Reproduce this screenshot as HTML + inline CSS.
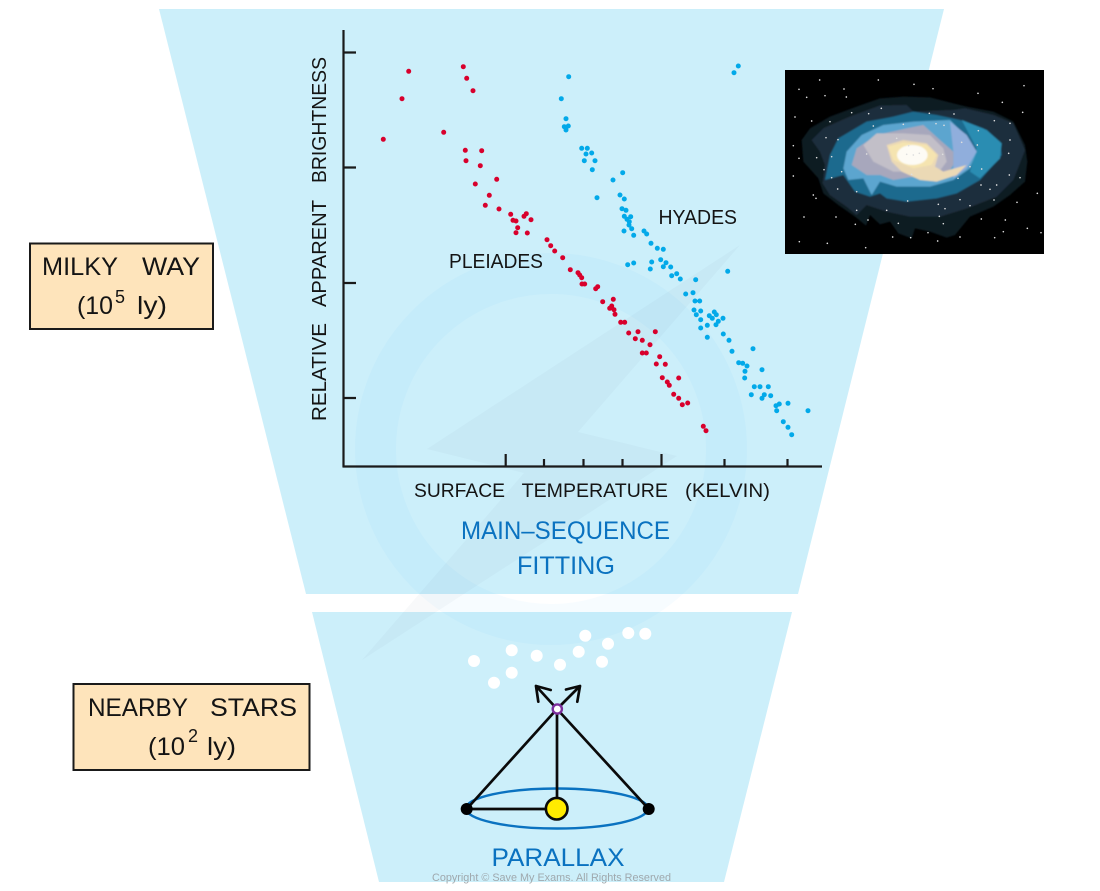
<!DOCTYPE html>
<html><head><meta charset="utf-8"><style>
html,body{margin:0;padding:0;background:#fff}
svg{display:block}
text{font-family:"Liberation Sans",sans-serif;fill:#141414;white-space:pre}
.b{fill:#0a72c0}
</style></head><body>
<svg width="1100" height="891" viewBox="0 0 1100 891" xmlns="http://www.w3.org/2000/svg">
<defs><filter id="s" x="-5%" y="-5%" width="110%" height="110%"><feGaussianBlur stdDeviation="2.4"/></filter></defs>
<rect width="1100" height="891" fill="#fff"/>
<polygon points="159,9 944,9 798,594 306,594" fill="#cceffa"/>
<polygon points="312,612 792,612 724,882 379,882" fill="#cceffa"/>
<!-- watermark -->
<circle cx="551" cy="449" r="175.5" fill="none" stroke="#0aa5f0" stroke-opacity=".03" stroke-width="41"/>
<polygon points="740,245 427,449 524,473 362,660 677,456 578,432" fill="#5a7f90" fill-opacity=".045"/>
<!-- axes -->
<g stroke="#1a1a1a" stroke-width="2.2" fill="none">
<path d="M343.5 30V467M342.5 466.5H822"/>
<path d="M343 52.5H356M343 167.5H356M343 283H356M343 398H356"/>
<path d="M505.7 454V466M544 459V466M583.5 459V466M622.5 459V466M661.5 454V466M724.5 459V466M787.5 459V466"/>
</g>
<!-- red -->
<path fill="none" stroke="#d8002c" stroke-width="5" stroke-linecap="round" d="M408.7 71.3h0M463.3 66.7h0M466.7 78.3h0M473 90.7h0M402 98.7h0M443.7 132.3h0M383.3 139.3h0M465.3 150.3h0M481.7 150.7h0M466 160.7h0M480.3 165.7h0M496.7 179.3h0M475.3 184h0M489.3 195.3h0M485.3 205.3h0M499 209h0M510.7 214.3h0M526.3 213.7h0M524 216.3h0M513 220.3h0M516 221h0M531 219.7h0M517.7 227.7h0M516 232.7h0M527.3 233h0M547 239.7h0M550.7 245.7h0M554.7 251h0M562.7 257.7h0M570.3 269.7h0M578 272.7h0M579.7 275h0M581.7 277.7h0M582 284h0M584.7 284h0M595.7 288.7h0M597.7 286.7h0M602.7 301.7h0M613.3 299.3h0M611.7 306h0M609.7 308.3h0M614 309.7h0M615 314.3h0M620.7 322.3h0M624.7 322.3h0M628.7 333h0M638 331.7h0M655.3 331.7h0M635.3 338.7h0M642.3 340.3h0M650 344.7h0M642.3 353h0M646.3 353h0M659.7 356.7h0M656.3 364h0M665.3 364.3h0M662.3 377.7h0M678.7 378h0M667.3 382h0M669.3 385.3h0M673.7 394.3h0M678.7 398.3h0M687.7 403h0M682.3 404.7h0M703.3 426.3h0M706 430.7h0"/>
<!-- blue -->
<path fill="none" stroke="#02a9e9" stroke-width="5" stroke-linecap="round" d="M568.7 76.7h0M561.3 98.7h0M566 118.7h0M564.3 126.7h0M568.3 126h0M566 130h0M738.3 66h0M734 72.7h0M581.7 148.3h0M587.3 148.3h0M586 154h0M591.7 153h0M584.3 160.7h0M595 160.7h0M592.3 169.7h0M622.7 172.7h0M613 180h0M597 197.7h0M620 195h0M624.3 199h0M622 208.7h0M626 210.3h0M624.3 216.3h0M630.7 216.7h0M627 219.3h0M629.3 221.7h0M629 225h0M631.7 228.7h0M624 231h0M633.7 235.3h0M644 231h0M646.7 234h0M651 243.3h0M657.3 248.3h0M663.3 249.3h0M660.7 259.7h0M651.7 262h0M666 262.7h0M670.7 267h0M663.3 266.7h0M650.3 269h0M633.7 263h0M627.7 264.7h0M676.7 273.7h0M671.7 275.7h0M680.3 279h0M695.7 279.7h0M727.7 271.3h0M685.7 294h0M693 292.7h0M695 301h0M699.7 301h0M694 310h0M700.7 311h0M696.3 314.7h0M709.3 315.7h0M714.3 312h0M716.3 314.7h0M712.3 318.3h0M723 318.3h0M700.7 319.7h0M718.3 321.3h0M716 324.7h0M707.3 325.3h0M700.7 328h0M707.3 337.3h0M723.3 334h0M729 340.3h0M732 351.3h0M753 348.7h0M738.7 362.7h0M742.7 363.3h0M747 366h0M745 371.3h0M762 369.7h0M744.7 378h0M754.3 386.7h0M760 386.7h0M768.3 386.7h0M751.3 394.7h0M764.3 394.7h0M770.7 395.7h0M762 398.3h0M788 403.3h0M779.3 404h0M776 405.7h0M776.7 410.7h0M808 410.7h0M783.3 421.7h0M788 427.3h0M791.7 434.7h0"/>
<!-- chart text -->
<text x="414" y="497" font-size="19" textLength="91" lengthAdjust="spacingAndGlyphs">SURFACE</text>
<text x="521.7" y="497" font-size="19" textLength="146.3" lengthAdjust="spacingAndGlyphs">TEMPERATURE</text>
<text x="685" y="497" font-size="19" textLength="85" lengthAdjust="spacingAndGlyphs">(KELVIN)</text>
<text transform="translate(326,421) rotate(-90)" font-size="20.5" textLength="98" lengthAdjust="spacingAndGlyphs">RELATIVE</text>
<text transform="translate(326,307) rotate(-90)" font-size="20.5" textLength="107" lengthAdjust="spacingAndGlyphs">APPARENT</text>
<text transform="translate(326,183) rotate(-90)" font-size="20.5" textLength="126" lengthAdjust="spacingAndGlyphs">BRIGHTNESS</text>
<text x="449" y="268" font-size="20" textLength="94" lengthAdjust="spacingAndGlyphs">PLEIADES</text>
<text x="658.5" y="224" font-size="20" textLength="78.5" lengthAdjust="spacingAndGlyphs">HYADES</text>
<text class="b" x="461" y="539" font-size="25" textLength="209" lengthAdjust="spacingAndGlyphs">MAIN–SEQUENCE</text>
<text class="b" x="517" y="574" font-size="25" textLength="98" lengthAdjust="spacingAndGlyphs">FITTING</text>
<!-- galaxy -->
<rect x="785" y="70" width="259" height="184" fill="#000"/>
<svg x="785" y="70" width="259" height="184" viewBox="15 15 777 552" overflow="hidden">
<g filter="url(#s)">
<polygon fill="#0e1a20" points="65,225 90,190 150,155 230,125 300,100 370,95 450,97 520,115 560,125 640,140 700,170 735,240 742,290 735,350 690,390 640,425 570,455 525,510 500,518 450,500 405,490 395,520 355,505 330,470 300,478 270,450 258,482 225,455 175,420 130,385 115,340 70,290"/>
<polygon fill="#1f2d3d" points="95,225 130,190 210,155 300,122 380,120 400,140 520,135 555,130 640,150 700,175 735,255 700,345 650,395 560,430 480,455 390,455 320,440 260,420 230,450 200,425 150,390 128,355 135,300 120,260"/>
<polygon fill="#1e6a8e" points="135,345 150,270 175,220 260,170 340,155 400,140 470,150 540,165 610,190 660,230 665,270 640,300 600,345 530,385 470,400 380,410 320,400 300,385 270,395 225,380 190,330"/>
<polygon fill="#2a8db2" points="545,165 620,195 665,235 660,280 600,340 570,320 590,250"/>
<polygon fill="#5ba5cf" points="190,310 200,260 245,210 310,180 400,170 510,165 560,215 590,260 570,310 520,345 450,365 350,365 300,350 275,390 250,340 205,345"/>
<polygon fill="#90aedc" points="510,170 560,210 590,260 560,310 520,340 520,260"/>
<polygon fill="#a7a7bc" points="215,300 230,250 290,210 380,190 430,180 480,225 520,260 520,300 500,330 450,345 400,335 340,345 300,330 260,330"/>
<polygon fill="#c2bfc8" points="250,240 290,205 370,205 450,210 490,250 500,290 470,330 400,320 340,320 280,290"/>
<polygon fill="#ebd9b5" points="320,240 370,225 440,235 475,270 465,305 490,320 560,300 530,330 470,350 420,345 365,320 335,290"/>
<polygon fill="#f5e4b0" points="325,245 370,232 440,240 470,270 455,300 400,310 340,285"/>
<ellipse cx="397" cy="270" rx="46" ry="30" fill="#fdfbf5"/>
</g>
<path fill="none" stroke="#dedede" stroke-width="5" stroke-linecap="round" d="M119 45h0M295 45h0M57 73h0M192 72h0M402 58h0M459 71h0M594 85h0M732 62h0M80 97h0M135 92h0M199 96h0M667 112h0M45 156h0M95 168h0M215 143h0M266 146h0M304 130h0M448 145h0M522 147h0M728 142h0M690 175h0M150 170h0M138 218h0M174 224h0M280 183h0M370 178h0M468 176h0M492 181h0M595 197h0M643 167h0M40 242h0M57 280h0M110 278h0M155 275h0M260 267h0M350 220h0M386 242h0M380 268h0M400 270h0M418 265h0M488 268h0M545 232h0M592 240h0M690 225h0M686 265h0M40 333h0M132 314h0M155 338h0M185 320h0M230 380h0M173 372h0M100 390h0M108 400h0M395 328h0M534 340h0M570 305h0M605 312h0M688 330h0M720 338h0M603 360h0M650 360h0M630 373h0M383 408h0M475 418h0M540 404h0M642 405h0M570 422h0M711 412h0M772 385h0M230 436h0M320 436h0M495 431h0M72 456h0M168 456h0M264 465h0M226 478h0M478 454h0M604 462h0M676 465h0M355 475h0M490 476h0M742 490h0M783 503h0M670 500h0M58 530h0M142 535h0M257 548h0M338 516h0M392 518h0M444 503h0M540 516h0M473 528h0M644 518h0"/>
</svg>
<!-- labels -->
<rect x="30" y="243.5" width="183" height="85.5" fill="#fee4bb" stroke="#1a1a1a" stroke-width="2"/>
<text x="42" y="275" font-size="25" textLength="76" lengthAdjust="spacingAndGlyphs">MILKY</text>
<text x="142" y="275" font-size="25" textLength="58" lengthAdjust="spacingAndGlyphs">WAY</text>
<text x="77" y="314" font-size="25" textLength="36" lengthAdjust="spacingAndGlyphs">(10</text>
<text x="115" y="303" font-size="18">5</text>
<text x="137" y="314" font-size="25" textLength="30" lengthAdjust="spacingAndGlyphs">ly)</text>
<rect x="73.5" y="684" width="236" height="86" fill="#fee4bb" stroke="#1a1a1a" stroke-width="2"/>
<text x="88" y="716" font-size="25" textLength="100" lengthAdjust="spacingAndGlyphs">NEARBY</text>
<text x="210" y="716" font-size="25" textLength="87" lengthAdjust="spacingAndGlyphs">STARS</text>
<text x="148" y="755" font-size="25" textLength="37" lengthAdjust="spacingAndGlyphs">(10</text>
<text x="188" y="742" font-size="18">2</text>
<text x="207" y="755" font-size="25" textLength="29" lengthAdjust="spacingAndGlyphs">ly)</text>
<!-- parallax -->
<g fill="#fff">
<circle cx="474" cy="661" r="6"/><circle cx="511.7" cy="650.3" r="6"/><circle cx="536.7" cy="655.7" r="6"/><circle cx="560" cy="664.7" r="6"/><circle cx="578.7" cy="651.7" r="6"/><circle cx="585.3" cy="635.7" r="6"/><circle cx="608" cy="643.7" r="6"/><circle cx="602" cy="661.7" r="6"/><circle cx="628.3" cy="633" r="6"/><circle cx="645.3" cy="633.7" r="6"/><circle cx="511.7" cy="672.7" r="6"/><circle cx="494" cy="682.7" r="6"/>
</g>
<ellipse cx="557" cy="808.5" rx="91" ry="20" fill="none" stroke="#0a72c0" stroke-width="2.4"/>
<g stroke="#0a0a0a" stroke-width="2.7" fill="none" stroke-linecap="round" stroke-linejoin="round">
<path d="M557 709L466.7 809H556M557 709L648.7 809M557 709V800"/>
<path d="M557 709L536 686M538.3 701.7L536 686L550.7 690M557 709L580 686M566 689.5L580 686L577.3 701.7"/>
</g>
<circle cx="557.3" cy="709" r="4.6" fill="#fff" stroke="#7a2e9c" stroke-width="2.4"/>
<circle cx="466.7" cy="809" r="6" fill="#000"/>
<circle cx="648.7" cy="809" r="6" fill="#000"/>
<circle cx="556.7" cy="808.7" r="10.8" fill="#ffeb00" stroke="#0a0a0a" stroke-width="2.6"/>
<text class="b" x="491.5" y="866" font-size="25" textLength="133" lengthAdjust="spacingAndGlyphs">PARALLAX</text>
<text x="432" y="881" font-size="11" textLength="239" lengthAdjust="spacingAndGlyphs" style="fill:#9fa8ad">Copyright © Save My Exams. All Rights Reserved</text>
</svg>
</body></html>
